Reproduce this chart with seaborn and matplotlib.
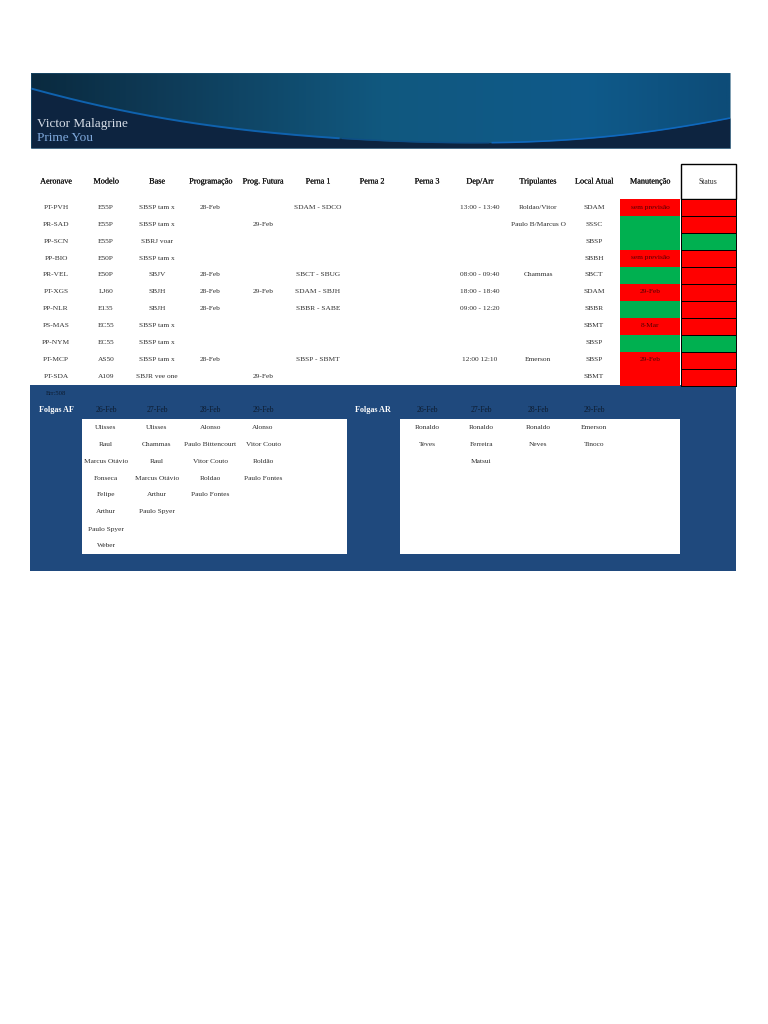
import numpy as np
import pandas as pd
import matplotlib
matplotlib.use("Agg")
import matplotlib.pyplot as plt
import matplotlib.patheffects as pe
from matplotlib.colors import ListedColormap, LinearSegmentedColormap
import seaborn as sns

# ── data ──────────────────────────────────────────────
headers = ["Aeronave", "Modelo", "Base", "Programação", "Prog. Futura", "Perna 1", "Perna 2",
           "Perna 3", "Dep/Arr", "Tripulantes", "Local Atual", "Manutenção"]
aeronave = ["PT-PVH", "PR-SAD", "PP-SCN", "PP-BIO", "PR-VEL", "PT-XGS", "PP-NLR", "PS-MAS", "PP-NYM", "PT-MCP", "PT-SDA"]
modelo = ["E55P", "E55P", "E55P", "E50P", "E50P", "LJ60", "E135", "EC55", "EC55", "AS50", "A109"]
base = ["SBSP tam x", "SBSP tam x", "SBRJ voar", "SBSP tam x", "SBJV", "SBJH", "SBJH", "SBSP tam x", "SBSP tam x", "SBSP tam x", "SBJR vee one"]
programacao = ["28-Feb", "", "", "", "28-Feb", "28-Feb", "28-Feb", "", "", "28-Feb", ""]
prog_futura = ["", "29-Feb", "", "", "", "29-Feb", "", "", "", "", "29-Feb"]
perna1 = ["SDAM - SDCO", "", "", "", "SBCT - SBUG", "SDAM - SBJH", "SBBR - SABE", "", "", "SBSP - SBMT", ""]
perna2 = [""] * 11
perna3 = [""] * 11
dep_arr = ["13:00 - 13:40", "", "", "", "08:00 - 09:40", "18:00 - 18:40", "09:00 - 12:20", "", "", "12:00 12:10", ""]
tripulantes = ["Roldao/Vitor", "Paulo B/Marcus O", "", "", "Chammas", "", "", "", "", "Emerson", ""]
local_atual = ["SDAM", "SSSC", "SBSP", "SBBH", "SBCT", "SDAM", "SBBR", "SBMT", "SBSP", "SBSP", "SBMT"]
manutencao = ["sem previsão", "", "", "sem previsão", "", "29-Feb", "", "8-Mar", "", "29-Feb", ""]

# 1 = red, 0 = green
manut_flag = [1, 0, 0, 1, 0, 1, 0, 1, 0, 1, 1]
status_flag = [1, 1, 0, 1, 1, 1, 1, 1, 0, 1, 1]

folga_dates = ["26-Feb", "27-Feb", "28-Feb", "29-Feb"]
folgas_af = [
    ["Ulisses", "Raul", "Marcus Otávio", "Fonseca", "Felipe", "Arthur", "Paulo Spyer", "Weber"],
    ["Ulisses", "Chammas", "Raul", "Marcus Otávio", "Arthur", "Paulo Spyer"],
    ["Alonso", "Paulo Bittencourt", "Vitor Couto", "Roldao", "Paulo Fontes"],
    ["Alonso", "Vitor Couto", "Roldão", "Paulo Fontes"],
]
folgas_ar = [
    ["Ronaldo", "Teves"],
    ["Ronaldo", "Ferreira", "Matsui"],
    ["Ronaldo", "Neves"],
    ["Emerson", "Tinoco"],
]

# ── page setup ────────────────────────────────────────
sns.set_theme(style="white")
plt.rcParams["font.family"] = ["Liberation Serif", "DejaVu Serif"]

fig = plt.figure(figsize=(7.68, 10.24), dpi=100, facecolor="white")
ax = fig.add_axes([0, 0, 1, 1])
ax.set_xlim(0, 768)
ax.set_ylim(1024, 0)
ax.axis("off")

RED = "#FF0000"
GREEN = "#00B050"
BLUE = "#1F497D"
INK = "#2E2E2E"
SMALL = 5.3
HEAD = 5.9
bold_ink = [pe.withStroke(linewidth=0.08, foreground="#111111")]


def sub_axes(x0, y0, x1, y1):
    return fig.add_axes([x0 / 768, 1 - y1 / 1024, (x1 - x0) / 768, (y1 - y0) / 1024])


# ── banner ────────────────────────────────────────────
bx0, bx1, by0, by1 = 31, 730, 73, 148
teal = LinearSegmentedColormap.from_list(
    "teal",
    [(0.0, "#0A2A3F"), (0.18, "#0E3A56"), (0.5, "#11587F"), (0.8, "#0F5A8A"), (1.0, "#0D4C78")],
)
grad = np.linspace(0, 1, 300)[None, :]
ax.imshow(grad, cmap=teal, extent=[bx0, bx1, by1, by0], aspect="auto", zorder=1)

# the swoosh, smoothed through points
swoosh_x = [31, 83, 133, 200, 267, 333, 383, 440, 500, 550, 600, 640, 680, 730]
swoosh_y = [88.5, 102, 112, 125, 132, 137, 141, 143, 142.5, 140.5, 137, 133, 127, 118]
fit = np.polyfit(np.array(swoosh_x) / 730, swoosh_y, 6)
sx = np.linspace(bx0, bx1, 300)
sy = np.polyval(fit, sx / 730)
ax.fill_between(sx, sy, by1, color="#0D2440", lw=0, zorder=2)
left = sx < 340
right = sx > 490
mid = ~left & ~right
ax.plot(sx[left], sy[left], color="#0F62AE", lw=1.4, zorder=3, solid_capstyle="butt")
ax.plot(sx[mid], sy[mid], color="#0D4E86", lw=1.0, zorder=3, solid_capstyle="butt")
ax.plot(sx[right], sy[right], color="#0F68BE", lw=1.2, zorder=3, solid_capstyle="butt")
ax.add_patch(plt.Rectangle((bx0, by0), bx1 - bx0, by1 - by0, fill=False, edgecolor="#1E5578", lw=0.4, zorder=3))
ax.set_xlim(0, 768)
ax.set_ylim(1024, 0)
ax.text(37, 124, "Victor Malagrine", fontsize=9.5, color="#D5DCE6", va="center", zorder=4)
ax.text(37, 138, "Prime You", fontsize=9.5, color="#7FA9DC", va="center", zorder=4)

# ── bottom blue panel ─────────────────────────────────
ax.add_patch(plt.Rectangle((30, 385), 705.5, 186, color=BLUE, lw=0, zorder=1))
ax.add_patch(plt.Rectangle((82, 419), 264.5, 135, color="white", lw=0, zorder=2))
ax.add_patch(plt.Rectangle((400, 419), 280, 135, color="white", lw=0, zorder=2))

# ── maintenance / status cells ────────────────────────
table_top, table_bot = 199, 385.5
colors2 = ListedColormap([GREEN, RED])

ax_m = sub_axes(620, table_top, 680, table_bot)
sns.heatmap(pd.DataFrame({"m": manut_flag}), ax=ax_m, cmap=colors2, vmin=0, vmax=1, cbar=False,
            xticklabels=False, yticklabels=False)
ax_m.set_xlabel("")
ax_m.set_ylabel("")

ax_s = sub_axes(681, table_top, 736, table_bot)
sns.heatmap(pd.DataFrame({"s": status_flag}), ax=ax_s, cmap=colors2, vmin=0, vmax=1, cbar=False,
            xticklabels=False, yticklabels=False, linewidths=0.6, linecolor="black")
ax_s.set_xlabel("")
ax_s.set_ylabel("")
for side in ax_s.spines.values():
    side.set_visible(True)
    side.set_color("black")
    side.set_linewidth(0.7)

# status header box
ax.add_patch(plt.Rectangle((681, 164), 55, 35, facecolor="white", edgecolor="black", lw=1.0, zorder=2))
ax.text(708, 181.5, "Status", fontsize=5.6, color=INK, ha="center", va="center", zorder=4)

# ── main table text ───────────────────────────────────
col_x = [56, 106, 157, 210.5, 263, 318, 372, 427, 480, 538, 594, 650]
row_y = [207.5, 224.5, 241.5, 258, 274.5, 291.5, 308.5, 325.5, 342.5, 359.5, 376.5]
columns = [aeronave, modelo, base, programacao, prog_futura, perna1, perna2, perna3,
           dep_arr, tripulantes, local_atual]

for x, name in zip(col_x, headers):
    ax.text(x, 181.5, name, fontsize=HEAD, color="#111111", ha="center", va="center", zorder=4,
            path_effects=bold_ink)

for x, values in zip(col_x, columns):
    for y, v in zip(row_y, values):
        if v:
            ax.text(x, y, v, fontsize=SMALL, color=INK, ha="center", va="center", zorder=4)

# text sits on top of the heatmap cells, so it goes on an overlay
overlay = fig.add_axes([0, 0, 1, 1], facecolor="none")
overlay.set_xlim(0, 768)
overlay.set_ylim(1024, 0)
overlay.axis("off")
for y, v in zip(row_y, manutencao):
    if v:
        overlay.text(650, y, v, fontsize=SMALL, color="#500000", ha="center", va="center")

# ── folgas blocks ─────────────────────────────────────
ax.text(56, 393.5, "Err:508", fontsize=4.8, color="#0D1B2E", ha="center", va="center", zorder=4)
ax.text(56, 409.5, "Folgas AF", fontsize=5.9, color="white", fontweight="bold", ha="center", va="center", zorder=4)
ax.text(373, 409.5, "Folgas AR", fontsize=5.9, color="white", fontweight="bold", ha="center", va="center", zorder=4)

folga_rows = [427.5, 444.5, 461.5, 478, 494.5, 511.5, 529, 545.5]
af_x = [106, 157, 210.5, 263]
ar_x = [427, 481.5, 538, 594]

for xs, block in ((af_x, folgas_af), (ar_x, folgas_ar)):
    for x, day, names in zip(xs, folga_dates, block):
        ax.text(x, 410, day, fontsize=5.5, color="#0D1B2E", ha="center", va="center", zorder=4)
        for y, name in zip(folga_rows, names):
            ax.text(x, y, name, fontsize=SMALL, color=INK, ha="center", va="center", zorder=4)

fig.savefig("out.png", dpi=100)
